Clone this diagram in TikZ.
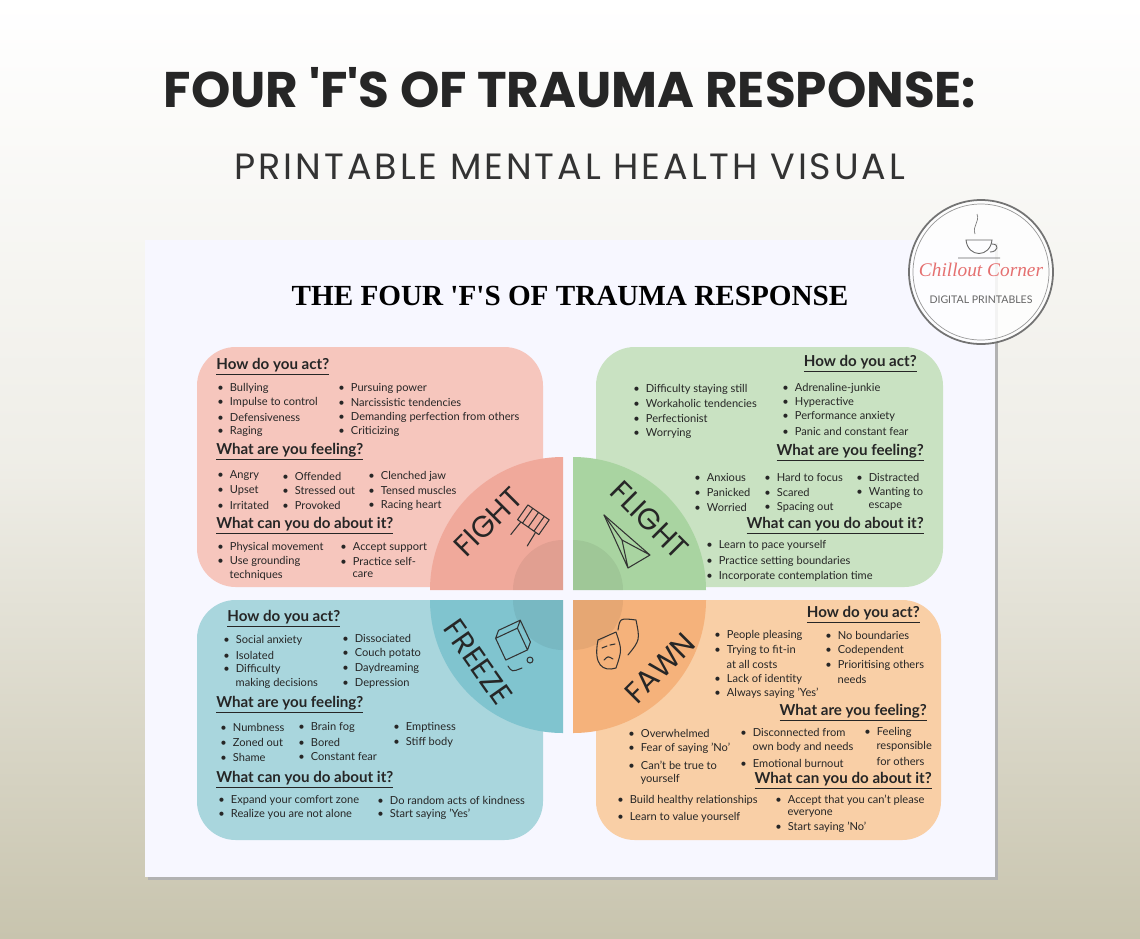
\documentclass[tikz,border=0pt]{standalone}
\usepackage{fontspec}
\setmainfont{Lato}
\newfontfamily\pop{Poppins}
\newfontfamily\serifb{Liberation Serif}
\begin{document}
\begin{tikzpicture}[x=0.02cm,y=-0.02cm,
  item/.style={anchor=west,inner sep=0pt,font=\fontsize{6.3}{7}\selectfont,text=black!85},
  head/.style={inner sep=0pt,font=\fontsize{8.6}{9}\selectfont\bfseries,text=black!85},
  flab/.style={inner sep=0pt,font=\pop\fontsize{17}{18}\selectfont,text=black!85},
  icon/.style={draw=black!80,line width=0.6pt,line join=round,line cap=round}]
\newcommand\bi[3]{\node[item] at (#1,#2) {\textbullet\hspace{3.5pt}#3};}
\newcommand\bc[3]{\node[item] at (#1,#2) {\hspace{7pt}#3};}
\definecolor{fightc}{HTML}{F6C6BD}\definecolor{fightw}{HTML}{F0A99B}
\definecolor{flightc}{HTML}{C9E2C2}\definecolor{flightw}{HTML}{A9D4A1}
\definecolor{freezec}{HTML}{A9D6DD}\definecolor{freezew}{HTML}{80C4CF}
\definecolor{fawnc}{HTML}{F9CFA6}\definecolor{fawnw}{HTML}{F5B27B}
\definecolor{bgb}{HTML}{C8C4AE}
\useasboundingbox (0,0) rectangle (1140,938);
\shade[top color=white,bottom color=bgb,middle color=white!70!bgb] (0,0) rectangle (1140,938);
\node[font=\pop\bfseries\fontsize{28.5}{30}\selectfont,text=black!85] (t1) at (570,88) {FOUR 'F'S OF TRAUMA RESPONSE:};
\node[font=\pop\addfontfeature{LetterSpace=8}\fontsize{20.8}{22}\selectfont,text=black!80] (t2) at (570,167) {PRINTABLE MENTAL HEALTH VISUAL};
% sheet
\fill[black!30] (148,243) rectangle (998,880);
\fill[white!97!blue] (145,240) rectangle (995,877);
\node[font=\serifb\bfseries\fontsize{16.6}{18}\selectfont] (t3) at (570,296) {THE FOUR 'F'S OF TRAUMA RESPONSE};
% quadrants
\fill[fightc,rounded corners=22pt] (197,347) rectangle (543,587);
\fill[flightc,rounded corners=22pt] (596,347) rectangle (943,587);
\fill[freezec,rounded corners=22pt] (197,600) rectangle (543,840);
\fill[fawnc,rounded corners=22pt] (596,600) rectangle (941,840);
\fill[fightw] (563,590) -- (430,590) arc[start angle=180,end angle=270,radius=133] -- cycle;
\fill[flightw] (573,590) -- (573,457) arc[start angle=270,end angle=360,radius=133] -- cycle;
\fill[freezew] (563,600) -- (430,600) arc[start angle=180,end angle=90,radius=133] -- cycle;
\fill[fawnw] (573,600) -- (706,600) arc[start angle=0,end angle=90,radius=133] -- cycle;
\fill[black,opacity=0.06] (563,590) -- (513,590) arc[start angle=180,end angle=270,radius=50] -- cycle;
\fill[black,opacity=0.06] (573,590) -- (573,540) arc[start angle=270,end angle=360,radius=50] -- cycle;
\fill[black,opacity=0.06] (563,600) -- (513,600) arc[start angle=180,end angle=90,radius=50] -- cycle;
\fill[black,opacity=0.06] (573,600) -- (623,600) arc[start angle=0,end angle=90,radius=50] -- cycle;
\node[flab,rotate=45] (lfight) at (488,522) {FIGHT};
\node[flab,rotate=-45] (lflight) at (650,520) {FLIGHT};
\node[flab,rotate=-55] (lfreeze) at (478,662) {FREEZE};
\node[flab,rotate=45] (lfawn) at (660,668) {FAWN};
% icons
\draw[icon] (604,515) -- (650,555) -- (628,568) -- cycle (628,568) -- (622,540) -- (650,555);
\draw[icon] (604,515) -- (622,540);
\draw[icon,rotate around={-35:(532,520)}] (520,510) rectangle (546,528) (526,510)--(526,528) (533,510)--(533,528) (540,510)--(540,528) (524,528) -- (523,544) (542,528)--(543,544);
\draw[icon,rotate around={25:(512,645)}] (500,632) rectangle (524,656) (500,632)--(506,626)--(530,626)--(524,632) (530,626)--(530,650)--(524,656);
\draw[icon] (508,666) .. controls (512,672) .. (522,668) (530,660) circle[radius=3];
\draw[icon] (598,640) .. controls (593,665) and (603,672) .. (616,668) .. controls (622,650) .. (616,632) -- cycle;
\draw[icon] (618,630) .. controls (620,618) .. (636,620) .. controls (640,640) .. (628,655);
\draw[icon] (602,648) -- (607,646) (610,645) -- (615,644) (604,660) .. controls (608,656) .. (613,659);
% Fight text
\node[head,anchor=west] (h1) at (216,367) {\underline{How do you act?}};
\bi{217}{388}{Bullying}\bi{217}{402}{Impulse to control}\bi{217}{417}{Defensiveness}\bi{217}{431}{Raging}
\bi{338}{388}{Pursuing power}\bi{338}{402}{Narcissistic tendencies}\bi{338}{417}{Demanding perfection from others}\bi{338}{431}{Criticizing}
\node[head,anchor=west] (h2) at (216,452) {\underline{What are you feeling?}};
\bi{217}{476}{Angry}\bi{217}{490}{Upset}\bi{217}{505}{Irritated}
\bi{282}{476}{Offended}\bi{282}{490}{Stressed out}\bi{282}{505}{Provoked}
\bi{368}{476}{Clenched jaw}\bi{368}{490}{Tensed muscles}\bi{368}{505}{Racing heart}
\node[head,anchor=west] (h3) at (216,526) {\underline{What can you do about it?}};
\bi{217}{547}{Physical movement}\bi{217}{561}{Use grounding}\bc{217}{575}{techniques}
\bi{340}{547}{Accept support}\bi{340}{561}{Practice self-}\bc{340}{575}{care}
% Flight text
\node[head,anchor=east] (h4) at (917,364) {\underline{How do you act?}};
\bi{633}{389}{Difficulty staying still}\bi{633}{403}{Workaholic tendencies}\bi{633}{418}{Perfectionist}\bi{633}{433}{Worrying}
\bi{782}{388}{Adrenaline-junkie}\bi{782}{402}{Hyperactive}\bi{782}{416}{Performance anxiety}\bi{782}{431}{Panic and constant fear}
\node[head,anchor=east] (h5) at (924,453) {\underline{What are you feeling?}};
\bi{694}{477}{Anxious}\bi{694}{492}{Panicked}\bi{694}{507}{Worried}
\bi{764}{477}{Hard to focus}\bi{764}{492}{Scared}\bi{764}{507}{Spacing out}
\bi{856}{477}{Distracted}\bi{856}{492}{Wanting to}\bc{856}{507}{escape}
\node[head,anchor=east] (h6) at (924,526) {\underline{What can you do about it?}};
\bi{706}{545}{Learn to pace yourself}\bi{706}{561}{Practice setting boundaries}\bi{706}{576}{Incorporate contemplation time}
% Freeze text
\node[head,anchor=west] (h7) at (227,619) {\underline{How do you act?}};
\bi{223}{640}{Social anxiety}\bi{223}{655}{Isolated}\bi{223}{669}{Difficulty}\bc{223}{683}{making decisions}
\bi{342}{638}{Dissociated}\bi{342}{653}{Couch potato}\bi{342}{668}{Daydreaming}\bi{342}{683}{Depression}
\node[head,anchor=west] (h8) at (216,705) {\underline{What are you feeling?}};
\bi{220}{727}{Numbness}\bi{220}{742}{Zoned out}\bi{220}{757}{Shame}
\bi{298}{727}{Brain fog}\bi{298}{742}{Bored}\bi{298}{757}{Constant fear}
\bi{393}{727}{Emptiness}\bi{393}{742}{Stiff body}
\node[head,anchor=west] (h9) at (216,780) {\underline{What can you do about it?}};
\bi{218}{800}{Expand your comfort zone}\bi{218}{814}{Realize you are not alone}
\bi{377}{800}{Do random acts of kindness}\bi{377}{814}{Start saying 'Yes'}
% Fawn text
\node[head,anchor=east] (h10) at (920,615) {\underline{How do you act?}};
\bi{714}{635}{People pleasing}\bi{714}{650}{Trying to fit-in}\bc{714}{664}{at all costs}\bi{714}{679}{Lack of identity}\bi{714}{693}{Always saying 'Yes'}
\bi{825}{635}{No boundaries}\bi{825}{650}{Codependent}\bi{825}{665}{Prioritising others}\bc{825}{679}{needs}
\node[head,anchor=east] (h11) at (927,713) {\underline{What are you feeling?}};
\bi{628}{733}{Overwhelmed}\bi{628}{748}{Fear of saying 'No'}\bi{628}{765}{Can't be true to}\bc{628}{779}{yourself}
\bi{740}{732}{Disconnected from}\bc{740}{747}{own body and needs}\bi{740}{763}{Emotional burnout}
\bi{864}{732}{Feeling}\bc{864}{746}{responsible}\bc{864}{761}{for others}
\node[head,anchor=east] (h12) at (932,781) {\underline{What can you do about it?}};
\bi{617}{800}{Build healthy relationships}\bi{617}{817}{Learn to value yourself}
\bi{775}{800}{Accept that you can't please}\bc{775}{814}{everyone}\bi{775}{827}{Start saying 'No'}
% stamp
\fill[white,opacity=0.85] (981,272) circle[radius=72];
\draw[black!55,line width=1pt] (981,272) circle[radius=72];
\draw[black!40,line width=0.4pt] (981,272) circle[radius=68];
\draw[black!60,line width=0.5pt] (966,240) .. controls (968,258) and (990,258) .. (992,240) -- cycle (992,244) .. controls (1000,244) and (998,252) .. (990,252) (958,258) -- (1000,258);
\draw[black!50,line width=0.4pt] (975,234) .. controls (972,226) and (980,222) .. (977,214);
\node[font=\serifb\itshape\fontsize{11}{12}\selectfont,text=red!35!pink!90!black] (st1) at (981,270) {Chillout Corner};
\node[font=\fontsize{6}{7}\selectfont,text=black!60] (st2) at (981,300) {DIGITAL PRINTABLES};
\end{tikzpicture}
\end{document}
